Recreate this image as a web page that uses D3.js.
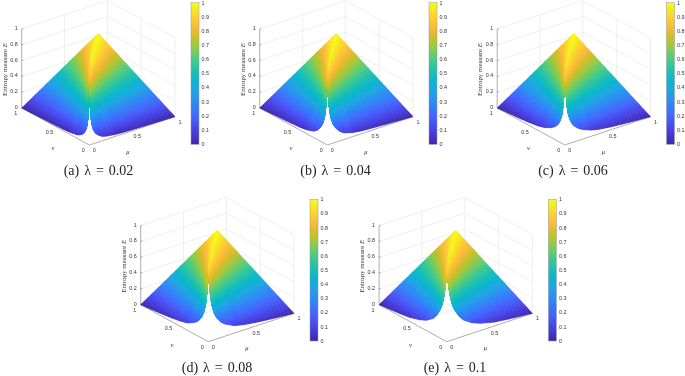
<!DOCTYPE html>
<html>
<head>
<meta charset="utf-8">
<script src="https://cdn.jsdelivr.net/npm/d3@7"></script>
<style>
  html, body { margin: 0; padding: 0; background: #fff; }
  svg { display: block; filter: blur(0.35px); }
  .tick { font-family: "Liberation Sans", sans-serif; font-size: 5.4px; fill: #333; }
  .serif { font-family: "Liberation Serif", serif; }
</style>
</head>
<body>
<svg id="chart" width="685" height="376"></svg>
<script>
// mesh rows, s = mu + nu (the surface stops short of the origin, hence the notch)
var s_nodes = [.015, .018, .022, .03, .045, .07, .1, .15, .2, .3, .4, .55, .7, .85, 1];

// E read along the mu / nu axes
var E_axis_a = [.50, .40, .33, .25, .18, .125, .09, .055, .04, .025, .018, .012, .008, .004, 0];
var E_axis_b = [.66, .57, .50, .41, .31, .23, .175, .115, .08, .05, .035, .025, .016, .008, 0];
var E_axis_c = [.75, .66, .57, .46, .35, .27, .21, .16, .125, .08, .055, .035, .022, .01, 0];
var E_axis_d = [.81, .72, .64, .54, .43, .33, .26, .19, .15, .095, .07, .045, .028, .013, 0];
var E_axis_e = [.84, .78, .73, .65, .54, .43, .35, .26, .20, .13, .09, .05, .03, .015, 0];

// E read along the ridge mu = nu
var E_ridge_a = [.50, .60, .66, .74, .82, .89, .92, .945, .96, .97, .98, .985, .99, .995, 1];
var E_ridge_b = [.66, .70, .73, .78, .83, .875, .90, .93, .945, .96, .97, .98, .985, .99, 1];
var E_ridge_c = [.75, .77, .79, .81, .85, .88, .90, .925, .94, .955, .965, .975, .985, .99, 1];
var E_ridge_d = [.81, .82, .83, .85, .87, .89, .91, .93, .94, .955, .965, .975, .985, .99, 1];
var E_ridge_e = [.84, .85, .855, .865, .88, .90, .915, .93, .945, .96, .97, .98, .985, .99, 1];

var captions = ["(a) λ = 0.02", "(b) λ = 0.04", "(c) λ = 0.06", "(d) λ = 0.08", "(e) λ = 0.1"];
var panel_dx = [0, 238, 475.5, 119, 357.4];
var panel_dy = [0, 0, 0, 196.7, 196.7];
var caption_x = [98.5, 335.5, 573, 217, 455];

var z_ticks = [0, .2, .4, .6, .8, 1];
var xy_ticks = [0, .5, 1];
var bar_ticks = [0, .1, .2, .3, .4, .5, .6, .7, .8, .9, 1];

var parula_pos = [0, 6, 12, 18, 24, 28, 32, 36, 40, 44, 48, 52, 56, 60, 63];
var parula_rgb = ["#3e26a8", "#4741e5", "#4563fd", "#2e87f7", "#20a5e3", "#08b5d0", "#19bfb6",
                  "#37c897", "#64cd6f", "#9dc943", "#d1bf27", "#f8ba3d", "#fccf30", "#f5e924", "#f9fb15"];

var parula = d3.scaleLinear().domain(parula_pos.map(function (i) { return i / 63; })).range(parula_rgb).clamp(true);

// Oblique view of the unit box, one scale per screen direction
var mu_x = d3.scaleLinear().domain([0, 1]).range([89.3, 175]);
var nu_x = d3.scaleLinear().domain([0, 1]).range([0, -67.6]);
var mu_y = d3.scaleLinear().domain([0, 1]).range([145, 116.7]);
var nu_y = d3.scaleLinear().domain([0, 1]).range([0, -37]);
var z_y = d3.scaleLinear().domain([0, 1]).range([0, -79]);

function project(mu, nu, z) {
  return [mu_x(mu) + nu_x(nu), mu_y(mu) + nu_y(nu) + z_y(z)];
}

var line = d3.line();

// rows of the mesh: every node interval split in a few steps
var s_rows = [];
s_nodes.slice(1).forEach(function (s, i) {
  var s0 = s_nodes[i];
  var steps = s - s0 > .1 ? 10 : 5;
  d3.range(steps).forEach(function (k) { s_rows.push(s0 + (s - s0) * k / steps); });
});
s_rows.push(1);
var h_cols = d3.range(0, 91).map(function (j) { return j / 90; });

function draw_surface(g, E_axis, E_ridge) {
  var axis_E = d3.scaleLinear().domain(s_nodes).range(E_axis);
  var ridge_E = d3.scaleLinear().domain(s_nodes).range(E_ridge);
  function height(s, h) { return axis_E(s) + h * (ridge_E(s) - axis_E(s)); }

  // cells of one colour go in one path, low to high
  var levels = d3.range(256).map(function () { return []; });
  for (var i = s_rows.length - 2; i >= 0; i--) {
    [0, 1].forEach(function (side) {
      for (var j = 0; j < h_cols.length - 1; j++) {
        var corners = [[s_rows[i], h_cols[j]], [s_rows[i + 1], h_cols[j]], [s_rows[i + 1], h_cols[j + 1]], [s_rows[i], h_cols[j + 1]]];
        var pts = corners.map(function (c) {
          var low = c[0] * c[1] / 2, high = c[0] - low;
          return side ? project(low, high, height(c[0], c[1])) : project(high, low, height(c[0], c[1]));
        });
        var E = d3.mean(corners, function (c) { return height(c[0], c[1]); });
        levels[Math.round(E * 255)].push(line(pts) + "Z");
      }
    });
  }

  g.append("g").selectAll("path").data(levels).enter().append("path")
    .attr("d", function (d) { return d.join(""); })
    .attr("fill", function (d, k) { return parula(k / 255); })
    .attr("stroke", function (d, k) { return parula(k / 255); })
    .attr("stroke-width", .5);
}

function draw_box(g) {
  function seg(a, b, col, w) {
    g.append("path").attr("d", line([a, b])).attr("fill", "none").attr("stroke", col).attr("stroke-width", w);
  }
  var grid = "#e4e4e4";
  // back walls
  z_ticks.slice(1).forEach(function (z) {
    seg(project(0, 1, z), project(1, 1, z), grid, .6);
    seg(project(1, 1, z), project(1, 0, z), grid, .6);
  });
  seg(project(.5, 1, 0), project(.5, 1, 1), grid, .6);
  seg(project(1, .5, 0), project(1, .5, 1), grid, .6);
  seg(project(1, 1, 0), project(1, 1, 1), grid, .6);
  seg(project(1, 0, 0), project(1, 0, 1), grid, .6);
  // floor
  seg(project(.5, 0, 0), project(.5, 1, 0), grid, .6);
  seg(project(0, .5, 0), project(1, .5, 0), grid, .6);
  seg(project(0, 1, 0), project(1, 1, 0), grid, .6);
  seg(project(1, 0, 0), project(1, 1, 0), grid, .6);
}

function draw_axes(g) {
  var dark = "#777";
  function seg(a, b) {
    g.append("path").attr("d", line([a, b])).attr("fill", "none").attr("stroke", dark).attr("stroke-width", .6);
  }
  seg(project(0, 1, 0), project(0, 1, 1));
  seg(project(0, 0, 0), project(1, 0, 0));
  seg(project(0, 0, 0), project(0, 1, 0));

  g.selectAll(".ztick").data(z_ticks).enter().append("text")
    .attr("class", "tick")
    .attr("text-anchor", "end")
    .attr("x", function (d) { return project(0, 1, d)[0] - 4; })
    .attr("y", function (d) { return project(0, 1, d)[1] + 1; })
    .text(function (d) { return d; });
  z_ticks.forEach(function (z) {
    var p = project(0, 1, z);
    seg(p, [p[0] + 1.5, p[1] - .5]);
  });

  g.selectAll(".mutick").data(xy_ticks).enter().append("text")
    .attr("class", "tick")
    .attr("text-anchor", "middle")
    .attr("x", function (d) { return project(d, 0, 0)[0] + 5; })
    .attr("y", function (d) { return project(d, 0, 0)[1] + 7; })
    .text(function (d) { return d; });
  g.selectAll(".nutick").data(xy_ticks).enter().append("text")
    .attr("class", "tick")
    .attr("text-anchor", "middle")
    .attr("x", function (d) { return project(0, d, 0)[0] - 6; })
    .attr("y", function (d) { return project(0, d, 0)[1] + 7; })
    .text(function (d) { return d; });

  g.append("text").attr("class", "serif").attr("x", 128).attr("y", 153.5)
    .attr("font-size", 6.5).attr("font-style", "italic").attr("fill", "#333").attr("text-anchor", "middle").text("μ");
  g.append("text").attr("class", "serif").attr("x", 53).attr("y", 150)
    .attr("font-size", 6.5).attr("font-style", "italic").attr("fill", "#333").attr("text-anchor", "middle").text("ν");

  var zl = g.append("text").attr("class", "serif")
    .attr("transform", "translate(6.5,69.5) rotate(-90)")
    .attr("font-size", 6.9).attr("fill", "#333").attr("text-anchor", "middle");
  zl.append("tspan").text("Entropy measure ");
  zl.append("tspan").attr("font-style", "italic").text("E");
}

function draw_colorbar(g) {
  var bar_y = d3.scaleLinear().domain([0, 1]).range([144.3, 2.7]);
  g.append("rect").attr("x", 191).attr("y", bar_y(1)).attr("width", 8).attr("height", bar_y(0) - bar_y(1))
    .attr("fill", "url(#parula_bar)").attr("stroke", "#999").attr("stroke-width", .5);
  g.selectAll(".bartick").data(bar_ticks).enter().append("text")
    .attr("class", "tick")
    .attr("x", 201.5)
    .attr("y", function (d) { return bar_y(d) + 1.8; })
    .text(function (d) { return d; });
}

var E_axes = [E_axis_a, E_axis_b, E_axis_c, E_axis_d, E_axis_e];
var E_ridges = [E_ridge_a, E_ridge_b, E_ridge_c, E_ridge_d, E_ridge_e];
var svg = d3.select("#chart");

svg.append("defs").append("linearGradient")
  .attr("id", "parula_bar").attr("x1", 0).attr("x2", 0).attr("y1", 1).attr("y2", 0)
  .selectAll("stop").data(parula_pos).enter().append("stop")
  .attr("offset", function (d) { return d / 63; })
  .attr("stop-color", function (d, i) { return parula_rgb[i]; });

captions.forEach(function (cap, i) {
  var g = svg.append("g").attr("transform", "translate(" + panel_dx[i] + "," + panel_dy[i] + ")");
  draw_box(g);
  draw_axes(g);
  draw_surface(g, E_axes[i], E_ridges[i]);
  draw_colorbar(g);
  svg.append("text").attr("class", "serif")
    .attr("x", caption_x[i]).attr("y", i > 2 ? 371.5 : 174.5)
    .attr("text-anchor", "middle").attr("font-size", 14).attr("word-spacing", 1.5).attr("fill", "#222")
    .text(cap);
});
</script>
</body>
</html>
